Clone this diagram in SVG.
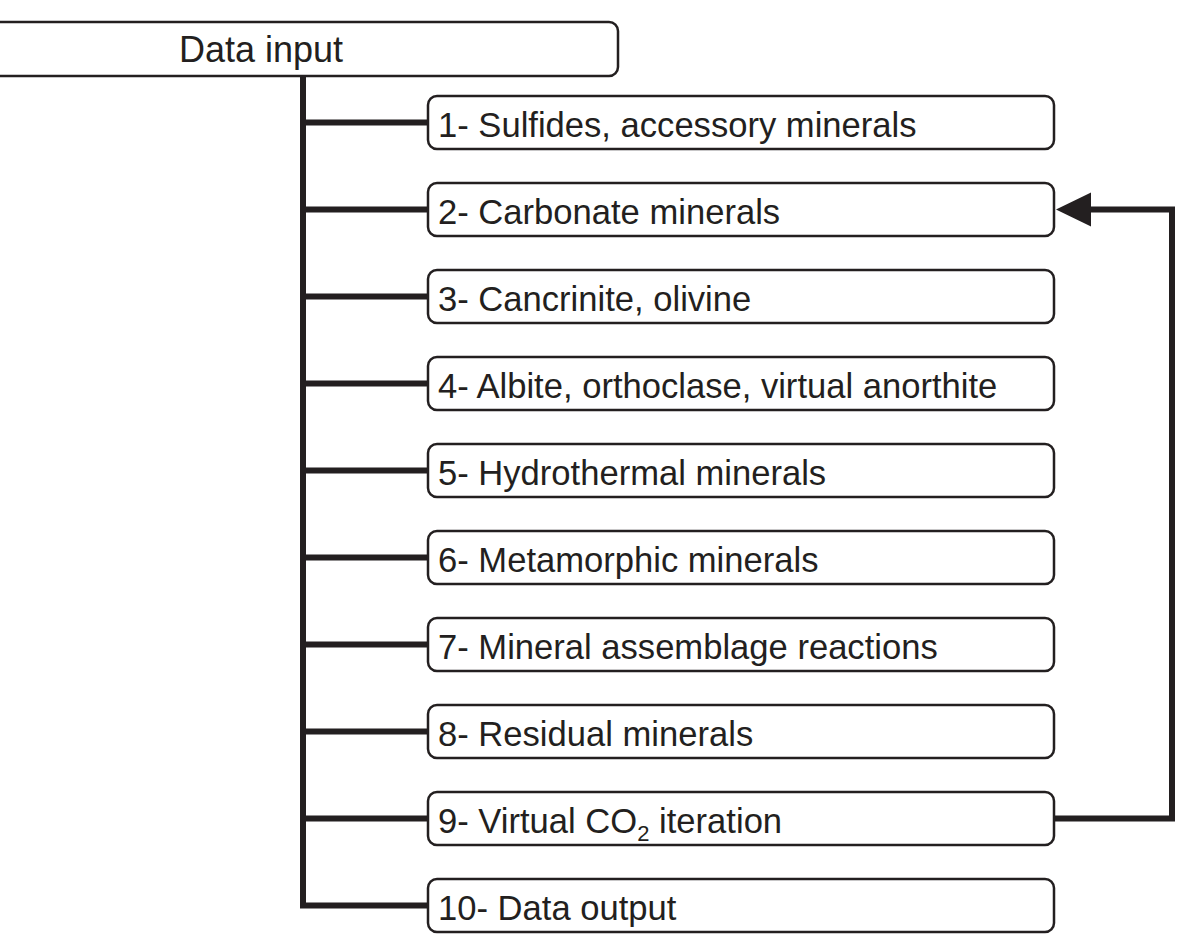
<svg xmlns="http://www.w3.org/2000/svg" width="1203" height="950" viewBox="0 0 1203 950">
<style>
.box{fill:#fff;stroke:#231f20;stroke-width:2.5}
.lbl{font-family:"Liberation Sans",Arial,sans-serif;font-size:34.6px;fill:#231f20}
.ln{fill:none;stroke:#231f20;stroke-width:6;stroke-linejoin:miter;stroke-linecap:butt}
</style>
<rect width="1203" height="950" fill="#fff"/>
<g id="connectors">
<path class="ln" d="M303,76 V905.5 H428"/>
<path class="ln" d="M303,122.5 H428"/>
<path class="ln" d="M303,209.5 H428"/>
<path class="ln" d="M303,296.5 H428"/>
<path class="ln" d="M303,383.5 H428"/>
<path class="ln" d="M303,470.5 H428"/>
<path class="ln" d="M303,557.5 H428"/>
<path class="ln" d="M303,644.5 H428"/>
<path class="ln" d="M303,731.5 H428"/>
<path class="ln" d="M303,818.5 H428"/>
<path class="ln" d="M1054,818.5 H1172 V209.5 H1090"/>
<path d="M1056,209.5 L1091,192.5 L1091,226.5 Z" fill="#231f20"/>
</g>
<g id="n0"><rect class="box" x="-10" y="22" width="628" height="54" rx="9"/><text class="lbl" x="179" y="62" style="font-size:36px">Data input</text></g>
<g id="n1"><rect class="box" x="428" y="96" width="626" height="53" rx="9"/><text class="lbl" x="438" y="137">1- Sulfides, accessory minerals</text></g>
<g id="n2"><rect class="box" x="428" y="183" width="626" height="53" rx="9"/><text class="lbl" x="438" y="224">2- Carbonate minerals</text></g>
<g id="n3"><rect class="box" x="428" y="270" width="626" height="53" rx="9"/><text class="lbl" x="438" y="311">3- Cancrinite, olivine</text></g>
<g id="n4"><rect class="box" x="428" y="357" width="626" height="53" rx="9"/><text class="lbl" x="438" y="398">4- Albite, orthoclase, virtual anorthite</text></g>
<g id="n5"><rect class="box" x="428" y="444" width="626" height="53" rx="9"/><text class="lbl" x="438" y="485">5- Hydrothermal minerals</text></g>
<g id="n6"><rect class="box" x="428" y="531" width="626" height="53" rx="9"/><text class="lbl" x="438" y="572">6- Metamorphic minerals</text></g>
<g id="n7"><rect class="box" x="428" y="618" width="626" height="53" rx="9"/><text class="lbl" x="438" y="659">7- Mineral assemblage reactions</text></g>
<g id="n8"><rect class="box" x="428" y="705" width="626" height="53" rx="9"/><text class="lbl" x="438" y="746">8- Residual minerals</text></g>
<g id="n9"><rect class="box" x="428" y="792" width="626" height="53" rx="9"/><text class="lbl" x="438" y="833">9- Virtual CO<tspan font-size="22px" dy="8">2</tspan><tspan dy="-8"> iteration</tspan></text></g>
<g id="n10"><rect class="box" x="428" y="879" width="626" height="53" rx="9"/><text class="lbl" x="438" y="920">10- Data output</text></g>
</svg>
